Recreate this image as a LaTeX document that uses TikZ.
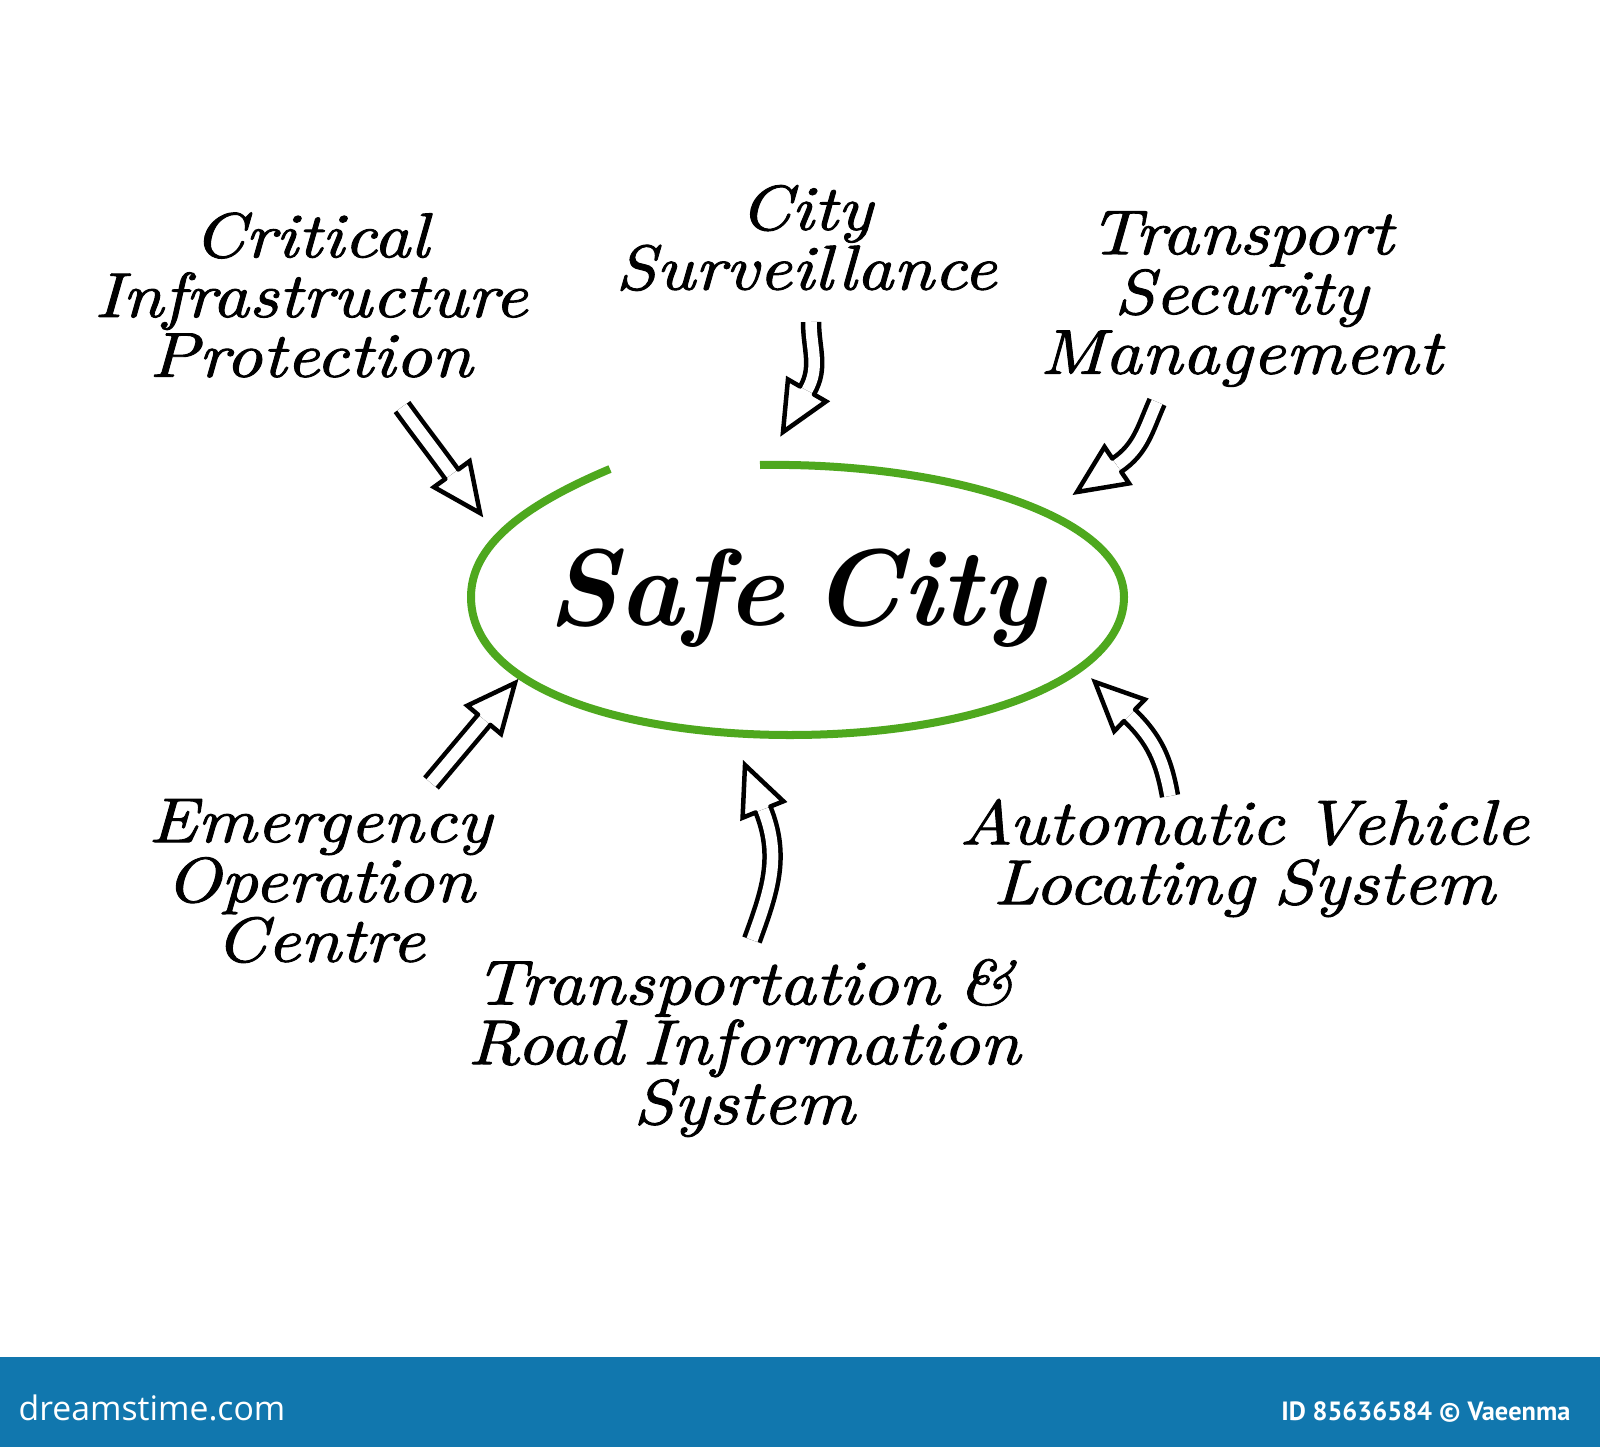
\documentclass[tikz,border=0pt]{standalone}
\usepackage{fontspec}
\usepackage{tikz}
\usetikzlibrary{calc}
\definecolor{ringgreen}{RGB}{78,168,30}
\definecolor{barblue}{RGB}{17,119,174}
\newfontfamily\handfont{lmroman10-italic.otf}[FakeStretch=1.14,FakeBold=1.5,WordSpace=0.75]
\newfontfamily\safefont{lmroman10-bolditalic.otf}[WordSpace=0.6]
\newfontfamily\logofont{Open Sans}
\newfontfamily\idfont{PT Sans}
\setlength{\lineskiplimit}{-100pt}

% hollow hand-drawn arrow: tail, tip, out angle, in angle
\newcommand{\hollowarrow}[4]{%
	\draw[hollowshaft] (#1) to[out=#3,in=#4] ($(#2)+(#4:48)$);
	\draw[hollowhead] ($(#2)+(#4:48)+(#4+90:8)$) -- ++(#4+90:14) -- (#2) -- ($(#2)+(#4:48)+(#4-90:22)$) -- ++(#4+90:14);
}

\begin{document}
\begin{tikzpicture}[x=0.01cm,y=0.01cm,
	topic/.style={align=center,inner sep=0pt,font=\handfont\fontsize{18}{17}\selectfont},
	hollowshaft/.style={line width=0.45mm,double=white,double distance=1.15mm,line cap=butt},
	hollowhead/.style={line width=0.45mm,line join=miter,line cap=round}]
	\useasboundingbox (0,0) rectangle (1600,1447);
	\fill[white] (0,0) rectangle (1600,1447);
	
	\node[font=\safefont\fontsize{31}{36}\selectfont,anchor=base] (safe) at (796,822) {Safe City};
	\draw[ringgreen,line width=0.8mm] (610,978) .. controls (520,940) and (471,900) .. (471,850) .. controls (471,760) and (620,712) .. (790,712) .. controls (980,712) and (1124,770) .. (1124,850) .. controls (1124,930) and (950,985) .. (760,982);
	
	\node[topic] (cip) at (311,1152) {Critical\\Infrastructure\\Protection};
	\node[topic] (surv) at (806,1209) {City\\Surveillance};
	\node[topic] (tsm) at (1241,1148) {Transport\\Security\\Management};
	\node[topic] (eoc) at (320,566) {Emergency\\Operation\\Centre};
	\node[topic] (trip) at (744,399) {Transportation \&\\Road Information\\System};
	\node[topic] (avls) at (1244,589) {Automatic Vehicle\\Locating System};
	
	\coordinate (cipin) at (402,1040);
	\coordinate (cipout) at (480,934);
	\coordinate (survin) at (811,1125);
	\coordinate (survout) at (783,1015);
	\coordinate (tsmin) at (1157,1045);
	\coordinate (tsmout) at (1077,955);
	\coordinate (eocin) at (431,664);
	\coordinate (eocout) at (515,764);
	\coordinate (tripin) at (752,507);
	\coordinate (tripout) at (745,682);
	\coordinate (avlsin) at (1170,651);
	\coordinate (avlsout) at (1095,765);
	
	\hollowarrow{cipin}{cipout}{-54}{126}
	\hollowarrow{survin}{survout}{270}{60}
	\hollowarrow{tsmin}{tsmout}{246}{34}
	\hollowarrow{eocin}{eocout}{50}{230}
	\hollowarrow{tripin}{tripout}{70}{292}
	\hollowarrow{avlsin}{avlsout}{100}{316}
	
	\fill[barblue] (0,0) rectangle (1600,90);
	\node[anchor=base west,inner sep=0pt,text=white,font=\logofont\fontsize{9.6}{12}\selectfont] (site) at (18,27) {dreamstime.com};
	\node[anchor=base east,inner sep=0pt,text=white,font=\idfont\fontsize{7.5}{9}\selectfont\bfseries] (photoid) at (1571,27) {ID 85636584 © Vaeenma};
	
\end{tikzpicture}
\end{document}
